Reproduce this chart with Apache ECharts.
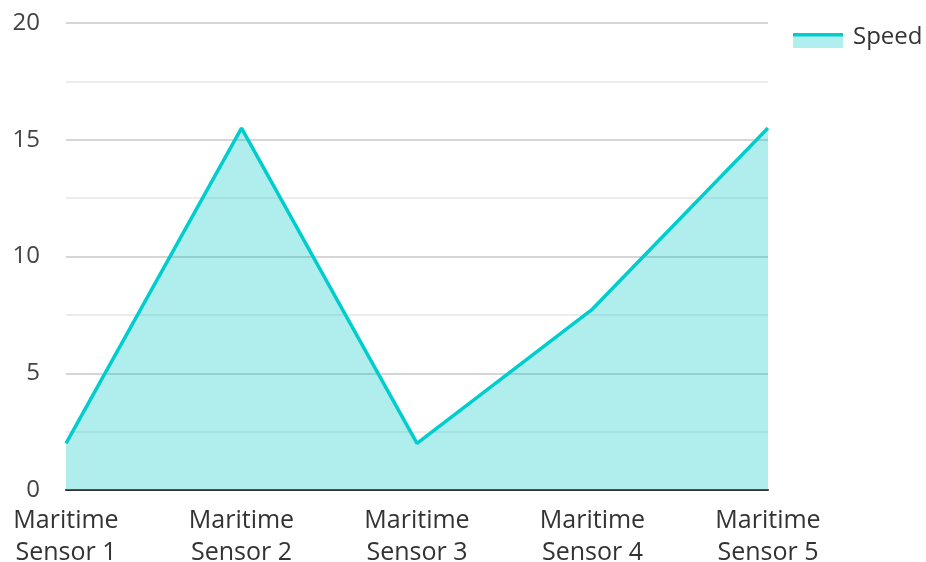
<!DOCTYPE html>
<html><head><meta charset="utf-8">
<script src="https://cdn.jsdelivr.net/npm/echarts@6/dist/echarts.min.js"></script>
<style>html,body{margin:0;padding:0;background:#fff;overflow:hidden}#c{width:926px;height:562px}</style>
</head><body><div id="c"></div>
<script>
const categories = ["Maritime\nSensor 1","Maritime\nSensor 2","Maritime\nSensor 3","Maritime\nSensor 4","Maritime\nSensor 5"];
const speed = [2, 15.5, 2, 7.75, 15.5];
const seriesName = "Speed";
const chart = echarts.init(document.getElementById('c'), null, {renderer:'canvas'});
const font = "'Open Sans', 'Noto Sans', sans-serif";
const iconSvg = '<svg xmlns="http://www.w3.org/2000/svg" width="50" height="22" viewBox="0 0 50 22">' +
  '<rect x="0" y="7" width="50" height="15" fill="rgb(176,239,238)"/>' +
  '<rect x="0" y="7" width="50" height="3.5" fill="#00CDCD"/></svg>';
const icon = 'image://data:image/svg+xml;charset=utf-8,' + encodeURIComponent(iconSvg);
chart.setOption({
  animation:false,
  textStyle:{fontFamily:font},
  grid:{left:66,right:158,top:23,bottom:72,containLabel:false,outerBoundsMode:'none'},
  legend:{left:788,top:20,itemWidth:50,itemHeight:22,itemGap:10,
    textStyle:{fontFamily:font,fontSize:24,color:'#333',padding:[0,0,0,5]},
    data:[{name:seriesName,icon:icon}]},
  xAxis:{type:'category',data:categories,boundaryGap:false,
    axisLine:{lineStyle:{color:'#333',width:2}},axisTick:{show:false},
    axisLabel:{fontFamily:font,fontSize:25,color:'#333',lineHeight:32,margin:15},
    splitLine:{show:false}},
  yAxis:{type:'value',min:0,max:20,interval:5,
    axisLine:{show:false},axisTick:{show:false},
    axisLabel:{fontFamily:font,fontSize:24,color:'#444',margin:26},
    splitLine:{lineStyle:{color:'#c8c8c8',width:1.5}},
    minorTick:{show:false,splitNumber:2},
    minorSplitLine:{show:true,lineStyle:{color:'#e6e6e6',width:1.5}}},
  series:[{name:seriesName,type:'line',data:speed,showSymbol:false,symbol:'none',
    lineStyle:{color:'#00CDCD',width:3.5},itemStyle:{color:'#00CDCD'},
    areaStyle:{color:'rgb(0,200,196)',opacity:0.31}}]
});
</script></body></html>
